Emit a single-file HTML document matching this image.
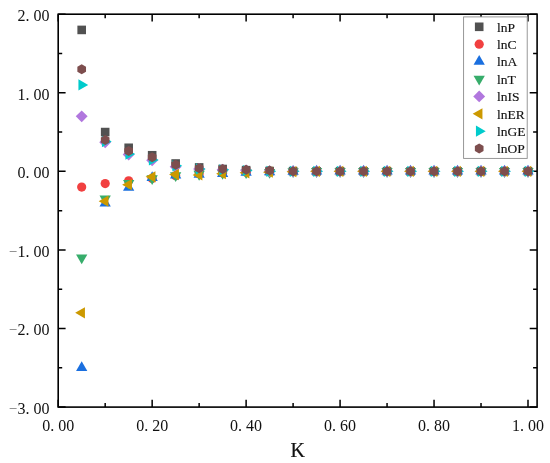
<!DOCTYPE html>
<html><head><meta charset="utf-8"><title>K</title>
<style>html,body{margin:0;padding:0;background:#fff}svg{display:block}</style></head>
<body>
<svg width="550" height="463" viewBox="0 0 550 463">
<rect width="550" height="463" fill="#fff"/>
<rect x="58.2" y="14.2" width="478.90" height="392.90" fill="none" stroke="#000" stroke-width="1.6"/>
<path d="M58.20 407.1v-7.4M58.20 14.2v7.4M105.18 407.1v-4.0M105.18 14.2v4.0M152.16 407.1v-7.4M152.16 14.2v7.4M199.14 407.1v-4.0M199.14 14.2v4.0M246.12 407.1v-7.4M246.12 14.2v7.4M293.10 407.1v-4.0M293.10 14.2v4.0M340.08 407.1v-7.4M340.08 14.2v7.4M387.06 407.1v-4.0M387.06 14.2v4.0M434.04 407.1v-7.4M434.04 14.2v7.4M481.02 407.1v-4.0M481.02 14.2v4.0M528.00 407.1v-7.4M528.00 14.2v7.4M58.2 14.20h7.4M537.1 14.20h-7.4M58.2 53.49h4.0M537.1 53.49h-4.0M58.2 92.78h7.4M537.1 92.78h-7.4M58.2 132.07h4.0M537.1 132.07h-4.0M58.2 171.36h7.4M537.1 171.36h-7.4M58.2 210.65h4.0M537.1 210.65h-4.0M58.2 249.94h7.4M537.1 249.94h-7.4M58.2 289.23h4.0M537.1 289.23h-4.0M58.2 328.52h7.4M537.1 328.52h-7.4M58.2 367.81h4.0M537.1 367.81h-4.0M58.2 407.10h7.4M537.1 407.10h-7.4" stroke="#000" stroke-width="1.5" fill="none"/>
<g font-family="'Liberation Serif', serif" font-size="16" fill="#111">
<text x="42.2 50.2 58.2 66.2" y="430.5">0.00</text>
<text x="136.2 144.2 152.2 160.2" y="430.5">0.20</text>
<text x="230.1 238.1 246.1 254.1" y="430.5">0.40</text>
<text x="324.1 332.1 340.1 348.1" y="430.5">0.60</text>
<text x="418.0 426.0 434.0 442.0" y="430.5">0.80</text>
<text x="512.0 520.0 528.0 536.0" y="430.5">1.00</text>
<text x="17.6 25.6 33.6 41.6" y="21.1">2.00</text>
<text x="17.6 25.6 33.6 41.6" y="99.7">1.00</text>
<text x="17.6 25.6 33.6 41.6" y="178.3">0.00</text>
<text x="9.7" y="253.6" font-size="13.5" fill="#555">–</text><text x="17.6 25.6 33.6 41.6" y="256.8">1.00</text>
<text x="9.7" y="332.2" font-size="13.5" fill="#555">–</text><text x="17.6 25.6 33.6 41.6" y="335.4">2.00</text>
<text x="9.7" y="410.8" font-size="13.5" fill="#555">–</text><text x="17.6 25.6 33.6 41.6" y="414.0">3.00</text>
</g>
<text x="297.7" y="457.2" text-anchor="middle" font-family="'Liberation Serif', serif" font-size="20" fill="#111" stroke="#111" stroke-width="0.2">K</text>
<g><rect x="77.39" y="25.62" width="8.60" height="8.60" fill="#515151"/><rect x="100.88" y="127.77" width="8.60" height="8.60" fill="#515151"/><rect x="124.37" y="143.49" width="8.60" height="8.60" fill="#515151"/><rect x="147.86" y="150.95" width="8.60" height="8.60" fill="#515151"/><rect x="171.35" y="159.20" width="8.60" height="8.60" fill="#515151"/><rect x="194.84" y="163.13" width="8.60" height="8.60" fill="#515151"/><rect x="218.33" y="164.70" width="8.60" height="8.60" fill="#515151"/><rect x="241.82" y="165.88" width="8.60" height="8.60" fill="#515151"/><rect x="265.31" y="166.75" width="8.60" height="8.60" fill="#515151"/><rect x="288.80" y="166.90" width="8.60" height="8.60" fill="#515151"/><rect x="312.29" y="167.06" width="8.60" height="8.60" fill="#515151"/><rect x="335.78" y="167.06" width="8.60" height="8.60" fill="#515151"/><rect x="359.27" y="167.06" width="8.60" height="8.60" fill="#515151"/><rect x="382.76" y="167.06" width="8.60" height="8.60" fill="#515151"/><rect x="406.25" y="167.06" width="8.60" height="8.60" fill="#515151"/><rect x="429.74" y="167.06" width="8.60" height="8.60" fill="#515151"/><rect x="453.23" y="167.06" width="8.60" height="8.60" fill="#515151"/><rect x="476.72" y="167.06" width="8.60" height="8.60" fill="#515151"/><rect x="500.21" y="167.06" width="8.60" height="8.60" fill="#515151"/><rect x="523.70" y="167.06" width="8.60" height="8.60" fill="#515151"/></g>
<g><circle cx="81.69" cy="187.08" r="4.6" fill="#F14040"/><circle cx="105.18" cy="183.54" r="4.6" fill="#F14040"/><circle cx="128.67" cy="180.79" r="4.6" fill="#F14040"/><circle cx="152.16" cy="178.43" r="4.6" fill="#F14040"/><circle cx="175.65" cy="175.68" r="4.6" fill="#F14040"/><circle cx="199.14" cy="173.72" r="4.6" fill="#F14040"/><circle cx="222.63" cy="172.93" r="4.6" fill="#F14040"/><circle cx="246.12" cy="172.15" r="4.6" fill="#F14040"/><circle cx="269.61" cy="171.75" r="4.6" fill="#F14040"/><circle cx="293.10" cy="171.36" r="4.6" fill="#F14040"/><circle cx="316.59" cy="171.36" r="4.6" fill="#F14040"/><circle cx="340.08" cy="171.36" r="4.6" fill="#F14040"/><circle cx="363.57" cy="171.36" r="4.6" fill="#F14040"/><circle cx="387.06" cy="171.36" r="4.6" fill="#F14040"/><circle cx="410.55" cy="171.36" r="4.6" fill="#F14040"/><circle cx="434.04" cy="171.36" r="4.6" fill="#F14040"/><circle cx="457.53" cy="171.36" r="4.6" fill="#F14040"/><circle cx="481.02" cy="171.36" r="4.6" fill="#F14040"/><circle cx="504.51" cy="171.36" r="4.6" fill="#F14040"/><circle cx="528.00" cy="171.36" r="4.6" fill="#F14040"/></g>
<g><polygon points="81.69,361.29 76.04,371.07 87.34,371.07" fill="#1A6FDF"/><polygon points="105.18,196.66 99.53,206.45 110.83,206.45" fill="#1A6FDF"/><polygon points="128.67,180.94 123.02,190.73 134.32,190.73" fill="#1A6FDF"/><polygon points="152.16,171.28 146.51,181.07 157.81,181.07" fill="#1A6FDF"/><polygon points="175.65,168.76 170.00,178.55 181.30,178.55" fill="#1A6FDF"/><polygon points="199.14,167.98 193.49,177.77 204.79,177.77" fill="#1A6FDF"/><polygon points="222.63,167.19 216.98,176.98 228.28,176.98" fill="#1A6FDF"/><polygon points="246.12,166.01 240.47,175.80 251.77,175.80" fill="#1A6FDF"/><polygon points="269.61,165.46 263.96,175.25 275.26,175.25" fill="#1A6FDF"/><polygon points="293.10,165.07 287.45,174.86 298.75,174.86" fill="#1A6FDF"/><polygon points="316.59,164.84 310.94,174.62 322.24,174.62" fill="#1A6FDF"/><polygon points="340.08,164.84 334.43,174.62 345.73,174.62" fill="#1A6FDF"/><polygon points="363.57,164.84 357.92,174.62 369.22,174.62" fill="#1A6FDF"/><polygon points="387.06,164.84 381.41,174.62 392.71,174.62" fill="#1A6FDF"/><polygon points="410.55,164.84 404.90,174.62 416.20,174.62" fill="#1A6FDF"/><polygon points="434.04,164.84 428.39,174.62 439.69,174.62" fill="#1A6FDF"/><polygon points="457.53,164.84 451.88,174.62 463.18,174.62" fill="#1A6FDF"/><polygon points="481.02,164.84 475.37,174.62 486.67,174.62" fill="#1A6FDF"/><polygon points="504.51,164.84 498.86,174.62 510.16,174.62" fill="#1A6FDF"/><polygon points="528.00,164.84 522.35,174.62 533.65,174.62" fill="#1A6FDF"/></g>
<g><polygon points="81.69,264.32 76.04,254.54 87.34,254.54" fill="#37AD6B"/><polygon points="105.18,205.39 99.53,195.60 110.83,195.60" fill="#37AD6B"/><polygon points="128.67,189.67 123.02,179.88 134.32,179.88" fill="#37AD6B"/><polygon points="152.16,184.96 146.51,175.17 157.81,175.17" fill="#37AD6B"/><polygon points="175.65,182.05 170.00,172.26 181.30,172.26" fill="#37AD6B"/><polygon points="199.14,180.63 193.49,170.85 204.79,170.85" fill="#37AD6B"/><polygon points="222.63,179.85 216.98,170.06 228.28,170.06" fill="#37AD6B"/><polygon points="246.12,179.06 240.47,169.28 251.77,169.28" fill="#37AD6B"/><polygon points="269.61,178.67 263.96,168.88 275.26,168.88" fill="#37AD6B"/><polygon points="293.10,178.12 287.45,168.33 298.75,168.33" fill="#37AD6B"/><polygon points="316.59,177.88 310.94,168.10 322.24,168.10" fill="#37AD6B"/><polygon points="340.08,177.88 334.43,168.10 345.73,168.10" fill="#37AD6B"/><polygon points="363.57,177.88 357.92,168.10 369.22,168.10" fill="#37AD6B"/><polygon points="387.06,177.88 381.41,168.10 392.71,168.10" fill="#37AD6B"/><polygon points="410.55,177.88 404.90,168.10 416.20,168.10" fill="#37AD6B"/><polygon points="434.04,177.88 428.39,168.10 439.69,168.10" fill="#37AD6B"/><polygon points="457.53,177.88 451.88,168.10 463.18,168.10" fill="#37AD6B"/><polygon points="481.02,177.88 475.37,168.10 486.67,168.10" fill="#37AD6B"/><polygon points="504.51,177.88 498.86,168.10 510.16,168.10" fill="#37AD6B"/><polygon points="528.00,177.88 522.35,168.10 533.65,168.10" fill="#37AD6B"/></g>
<g><polygon points="81.69,110.40 87.64,116.35 81.69,122.30 75.74,116.35" fill="#B177DE"/><polygon points="105.18,136.34 111.13,142.29 105.18,148.24 99.23,142.29" fill="#B177DE"/><polygon points="128.67,148.52 134.62,154.47 128.67,160.42 122.72,154.47" fill="#B177DE"/><polygon points="152.16,154.41 158.11,160.36 152.16,166.31 146.21,160.36" fill="#B177DE"/><polygon points="175.65,160.70 181.60,166.65 175.65,172.60 169.70,166.65" fill="#B177DE"/><polygon points="199.14,163.05 205.09,169.00 199.14,174.95 193.19,169.00" fill="#B177DE"/><polygon points="222.63,163.84 228.58,169.79 222.63,175.74 216.68,169.79" fill="#B177DE"/><polygon points="246.12,164.62 252.07,170.57 246.12,176.52 240.17,170.57" fill="#B177DE"/><polygon points="269.61,165.41 275.56,171.36 269.61,177.31 263.66,171.36" fill="#B177DE"/><polygon points="293.10,165.41 299.05,171.36 293.10,177.31 287.15,171.36" fill="#B177DE"/><polygon points="316.59,165.41 322.54,171.36 316.59,177.31 310.64,171.36" fill="#B177DE"/><polygon points="340.08,165.41 346.03,171.36 340.08,177.31 334.13,171.36" fill="#B177DE"/><polygon points="363.57,165.41 369.52,171.36 363.57,177.31 357.62,171.36" fill="#B177DE"/><polygon points="387.06,165.41 393.01,171.36 387.06,177.31 381.11,171.36" fill="#B177DE"/><polygon points="410.55,165.41 416.50,171.36 410.55,177.31 404.60,171.36" fill="#B177DE"/><polygon points="434.04,165.41 439.99,171.36 434.04,177.31 428.09,171.36" fill="#B177DE"/><polygon points="457.53,165.41 463.48,171.36 457.53,177.31 451.58,171.36" fill="#B177DE"/><polygon points="481.02,165.41 486.97,171.36 481.02,177.31 475.07,171.36" fill="#B177DE"/><polygon points="504.51,165.41 510.46,171.36 504.51,177.31 498.56,171.36" fill="#B177DE"/><polygon points="528.00,165.41 533.95,171.36 528.00,177.31 522.05,171.36" fill="#B177DE"/></g>
<g><polygon points="75.17,312.80 84.95,307.15 84.95,318.45" fill="#CC9900"/><polygon points="98.66,201.22 108.44,195.57 108.44,206.87" fill="#CC9900"/><polygon points="122.15,184.72 131.93,179.07 131.93,190.37" fill="#CC9900"/><polygon points="145.64,176.86 155.42,171.21 155.42,182.51" fill="#CC9900"/><polygon points="169.13,174.50 178.91,168.85 178.91,180.15" fill="#CC9900"/><polygon points="192.62,174.90 202.40,169.25 202.40,180.55" fill="#CC9900"/><polygon points="216.11,173.72 225.89,168.07 225.89,179.37" fill="#CC9900"/><polygon points="239.60,172.77 249.38,167.12 249.38,178.42" fill="#CC9900"/><polygon points="263.09,172.15 272.87,166.50 272.87,177.80" fill="#CC9900"/><polygon points="286.58,171.67 296.36,166.02 296.36,177.32" fill="#CC9900"/><polygon points="310.07,171.36 319.85,165.71 319.85,177.01" fill="#CC9900"/><polygon points="333.56,171.36 343.34,165.71 343.34,177.01" fill="#CC9900"/><polygon points="357.05,171.36 366.83,165.71 366.83,177.01" fill="#CC9900"/><polygon points="380.54,171.36 390.32,165.71 390.32,177.01" fill="#CC9900"/><polygon points="404.03,171.36 413.81,165.71 413.81,177.01" fill="#CC9900"/><polygon points="427.52,171.36 437.30,165.71 437.30,177.01" fill="#CC9900"/><polygon points="451.01,171.36 460.79,165.71 460.79,177.01" fill="#CC9900"/><polygon points="474.50,171.36 484.28,165.71 484.28,177.01" fill="#CC9900"/><polygon points="497.99,171.36 507.77,165.71 507.77,177.01" fill="#CC9900"/><polygon points="521.48,171.36 531.26,165.71 531.26,177.01" fill="#CC9900"/></g>
<g><polygon points="88.21,84.92 78.43,79.27 78.43,90.57" fill="#00CBCC"/><polygon points="111.70,141.50 101.92,135.85 101.92,147.15" fill="#00CBCC"/><polygon points="135.19,154.07 125.41,148.42 125.41,159.72" fill="#00CBCC"/><polygon points="158.68,159.97 148.90,154.32 148.90,165.62" fill="#00CBCC"/><polygon points="182.17,165.86 172.39,160.21 172.39,171.51" fill="#00CBCC"/><polygon points="205.66,169.00 195.88,163.35 195.88,174.65" fill="#00CBCC"/><polygon points="229.15,169.79 219.37,164.14 219.37,175.44" fill="#00CBCC"/><polygon points="252.64,170.57 242.86,164.92 242.86,176.22" fill="#00CBCC"/><polygon points="276.13,171.36 266.35,165.71 266.35,177.01" fill="#00CBCC"/><polygon points="299.62,171.36 289.84,165.71 289.84,177.01" fill="#00CBCC"/><polygon points="323.11,171.36 313.33,165.71 313.33,177.01" fill="#00CBCC"/><polygon points="346.60,171.36 336.82,165.71 336.82,177.01" fill="#00CBCC"/><polygon points="370.09,171.36 360.31,165.71 360.31,177.01" fill="#00CBCC"/><polygon points="393.58,171.36 383.80,165.71 383.80,177.01" fill="#00CBCC"/><polygon points="417.07,171.36 407.29,165.71 407.29,177.01" fill="#00CBCC"/><polygon points="440.56,171.36 430.78,165.71 430.78,177.01" fill="#00CBCC"/><polygon points="464.05,171.36 454.27,165.71 454.27,177.01" fill="#00CBCC"/><polygon points="487.54,171.36 477.76,165.71 477.76,177.01" fill="#00CBCC"/><polygon points="511.03,171.36 501.25,165.71 501.25,177.01" fill="#00CBCC"/><polygon points="534.52,171.36 524.74,165.71 524.74,177.01" fill="#00CBCC"/></g>
<g><polygon points="81.69,64.21 86.02,66.71 86.02,71.71 81.69,74.21 77.36,71.71 77.36,66.71" fill="#7D4E4E"/><polygon points="105.18,134.93 109.51,137.43 109.51,142.43 105.18,144.93 100.85,142.43 100.85,137.43" fill="#7D4E4E"/><polygon points="128.67,145.93 133.00,148.43 133.00,153.43 128.67,155.93 124.34,153.43 124.34,148.43" fill="#7D4E4E"/><polygon points="152.16,152.22 156.49,154.72 156.49,159.72 152.16,162.22 147.83,159.72 147.83,154.72" fill="#7D4E4E"/><polygon points="175.65,159.68 179.98,162.18 179.98,167.18 175.65,169.68 171.32,167.18 171.32,162.18" fill="#7D4E4E"/><polygon points="199.14,163.22 203.47,165.72 203.47,170.72 199.14,173.22 194.81,170.72 194.81,165.72" fill="#7D4E4E"/><polygon points="222.63,164.00 226.96,166.50 226.96,171.50 222.63,174.00 218.30,171.50 218.30,166.50" fill="#7D4E4E"/><polygon points="246.12,164.79 250.45,167.29 250.45,172.29 246.12,174.79 241.79,172.29 241.79,167.29" fill="#7D4E4E"/><polygon points="269.61,165.57 273.94,168.07 273.94,173.07 269.61,175.57 265.28,173.07 265.28,168.07" fill="#7D4E4E"/><polygon points="293.10,166.36 297.43,168.86 297.43,173.86 293.10,176.36 288.77,173.86 288.77,168.86" fill="#7D4E4E"/><polygon points="316.59,166.36 320.92,168.86 320.92,173.86 316.59,176.36 312.26,173.86 312.26,168.86" fill="#7D4E4E"/><polygon points="340.08,166.36 344.41,168.86 344.41,173.86 340.08,176.36 335.75,173.86 335.75,168.86" fill="#7D4E4E"/><polygon points="363.57,166.36 367.90,168.86 367.90,173.86 363.57,176.36 359.24,173.86 359.24,168.86" fill="#7D4E4E"/><polygon points="387.06,166.36 391.39,168.86 391.39,173.86 387.06,176.36 382.73,173.86 382.73,168.86" fill="#7D4E4E"/><polygon points="410.55,166.36 414.88,168.86 414.88,173.86 410.55,176.36 406.22,173.86 406.22,168.86" fill="#7D4E4E"/><polygon points="434.04,166.36 438.37,168.86 438.37,173.86 434.04,176.36 429.71,173.86 429.71,168.86" fill="#7D4E4E"/><polygon points="457.53,166.36 461.86,168.86 461.86,173.86 457.53,176.36 453.20,173.86 453.20,168.86" fill="#7D4E4E"/><polygon points="481.02,166.36 485.35,168.86 485.35,173.86 481.02,176.36 476.69,173.86 476.69,168.86" fill="#7D4E4E"/><polygon points="504.51,166.36 508.84,168.86 508.84,173.86 504.51,176.36 500.18,173.86 500.18,168.86" fill="#7D4E4E"/><polygon points="528.00,166.36 532.33,168.86 532.33,173.86 528.00,176.36 523.67,173.86 523.67,168.86" fill="#7D4E4E"/></g>
<rect x="463.6" y="16.9" width="63.6" height="141.5" fill="#fff" stroke="#8c8c8c" stroke-width="0.9"/>
<g font-family="'Liberation Serif', serif" font-size="13.5" fill="#111" stroke="#111" stroke-width="0.15">
<rect x="474.90" y="22.50" width="8.60" height="8.60" fill="#515151" stroke="none"/>
<text x="496.9" y="31.55">lnP</text>
<circle cx="479.20" cy="44.20" r="4.6" fill="#F14040" stroke="none"/>
<text x="496.9" y="48.95">lnC</text>
<polygon points="479.20,55.08 473.55,64.86 484.85,64.86" fill="#1A6FDF" stroke="none"/>
<text x="496.9" y="66.35">lnA</text>
<polygon points="479.20,85.52 473.55,75.74 484.85,75.74" fill="#37AD6B" stroke="none"/>
<text x="496.9" y="83.75">lnT</text>
<polygon points="479.20,90.45 485.15,96.40 479.20,102.35 473.25,96.40" fill="#B177DE" stroke="none"/>
<text x="496.9" y="101.15">lnIS</text>
<polygon points="472.68,113.80 482.46,108.15 482.46,119.45" fill="#CC9900" stroke="none"/>
<text x="496.9" y="118.55">lnER</text>
<polygon points="485.72,131.20 475.94,125.55 475.94,136.85" fill="#00CBCC" stroke="none"/>
<text x="496.9" y="135.95">lnGE</text>
<polygon points="479.20,143.60 483.53,146.10 483.53,151.10 479.20,153.60 474.87,151.10 474.87,146.10" fill="#7D4E4E" stroke="none"/>
<text x="496.9" y="153.35">lnOP</text>
</g>
</svg>
</body></html>
